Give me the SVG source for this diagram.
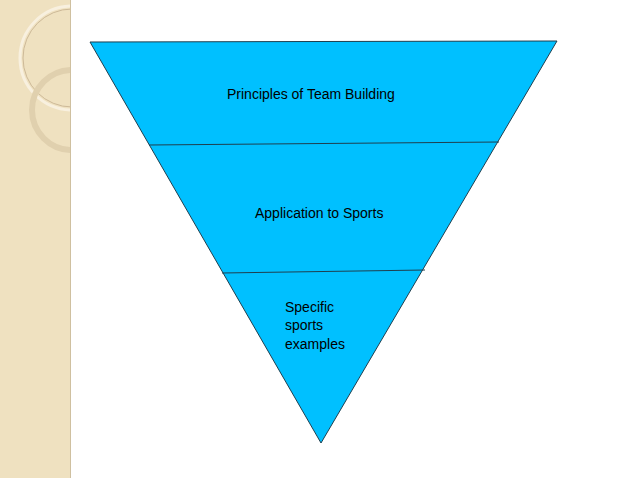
<svg xmlns="http://www.w3.org/2000/svg" width="638" height="478" viewBox="0 0 638 478">
<style>
.t{font-family:"Liberation Sans",Arial,sans-serif;font-size:14px;fill:#000}
.d{stroke:#1f3f4f;stroke-width:1;fill:none}
</style>
<defs><clipPath id="c"><rect x="0" y="0" width="70" height="478"/></clipPath></defs>
<g id="side">
<rect x="0" y="0" width="70" height="478" fill="#efe1c0"/>
<g clip-path="url(#c)">
<circle cx="72" cy="58" r="52" fill="none" stroke="#f8f0df" stroke-width="3"/>
<circle cx="72" cy="58" r="49" fill="none" stroke="#cdb998" stroke-width="1"/>
<circle cx="72" cy="110" r="40" fill="none" stroke="#e0d0ae" stroke-width="6"/>
</g>
<line x1="70.5" y1="0" x2="70.5" y2="478" stroke="#cfc0a0"/>
</g>
<g id="triangle">
<polygon points="90,42 557,41 321,443" fill="#00c0ff" stroke="#1f3f4f"/>
</g>
<g id="connectors">
<line class="d" x1="149" y1="145" x2="499" y2="142"/>
<line class="d" x1="222" y1="273" x2="425" y2="270"/>
</g>
<g id="n1"><text class="t" x="227" y="99">Principles of  Team Building</text></g>
<g id="n2"><text class="t" x="255" y="218">Application to Sports</text></g>
<g id="n3"><text class="t" x="285" y="312">Specific</text><text class="t" x="285" y="330">sports</text><text class="t" x="285" y="349">examples</text></g>
</svg>
